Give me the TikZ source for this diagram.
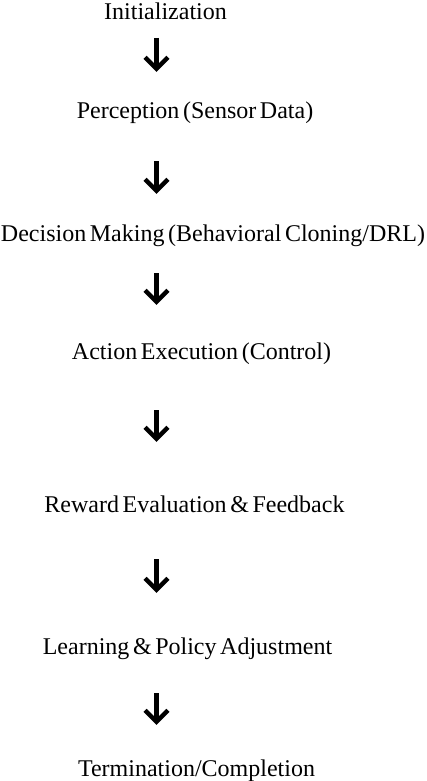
\documentclass[tikz,border=0pt]{standalone}
\usepackage{fontspec}
\setmainfont{Liberation Serif}[WordSpace=0.6]
\begin{document}
\begin{tikzpicture}[x=1pt,y=-1pt,
  lbl/.style={anchor=base,inner sep=0pt,font=\fontsize{24}{28}\selectfont},
  shaft/.style={line width=4.4pt},
  barb/.style={line width=4.4pt,line join=miter}]
\useasboundingbox (0,0) rectangle (426,781);
\node[lbl] (n1) at (165.5,19.5) {Initialization};
\node[lbl] (n2) at (195,118) {Perception (Sensor Data)};
\node[lbl] (n3) at (213,241) {Decision Making (Behavioral Cloning/DRL)};
\node[lbl] (n4) at (201.5,359) {Action Execution (Control)};
\node[lbl] (n5) at (194.5,512) {Reward Evaluation \& Feedback};
\node[lbl] (n6) at (187.5,654) {Learning \& Policy Adjustment};
\node[lbl] (n7) at (196.5,776) {Termination/Completion};
\foreach \i/\t/\b in {1/38/72,2/161/194,3/273/305,4/410/442,5/559/593,6/693/725}{
  \coordinate (a\i t) at (156.5,\t);
  \coordinate (a\i b) at (156.5,\b-3.2);
  \draw[shaft] (a\i t) -- (a\i b);
  \draw[barb] ([shift={(-11.5,-11.5)}]a\i b) -- (a\i b) -- ([shift={(11.5,-11.5)}]a\i b);
}
\end{tikzpicture}
\end{document}
